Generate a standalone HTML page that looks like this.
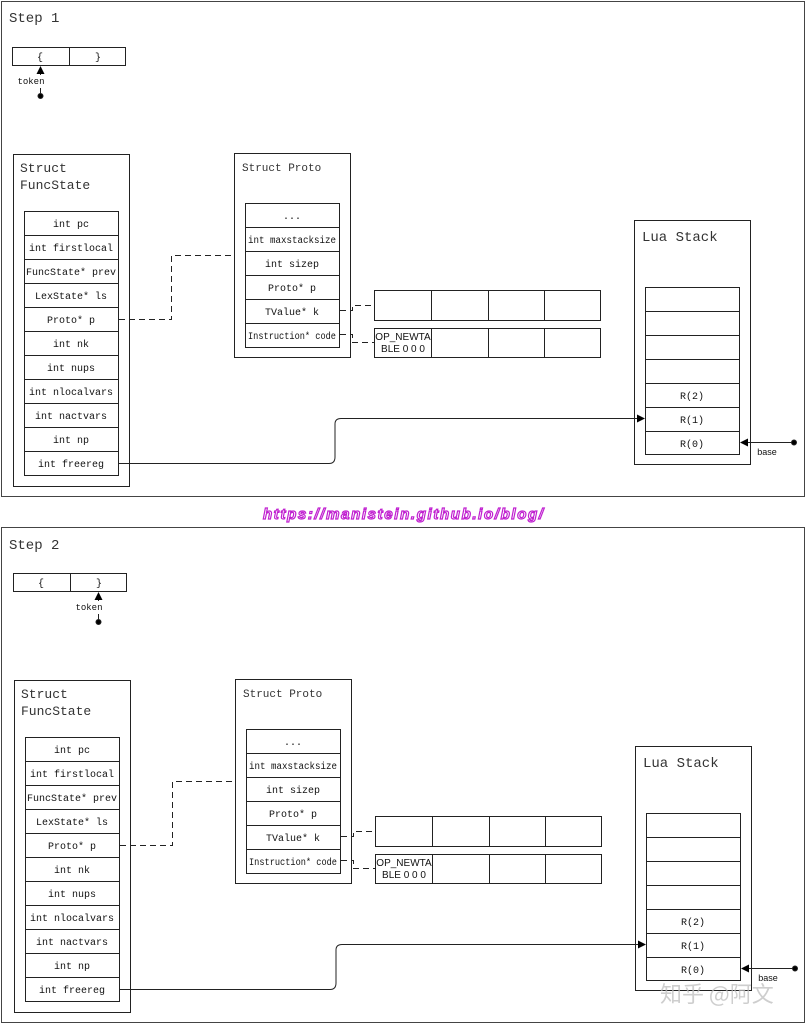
<!DOCTYPE html>
<html><head><meta charset="utf-8"><style>
html,body{margin:0;padding:0;background:#fff;}
svg{display:block;}
text{font-family:"Liberation Mono","Noto Sans CJK SC",monospace;fill:#111;}
.c{font-size:10px;text-anchor:middle;}
.t{font-size:13px;fill:#333;}
</style></head><body>
<svg width="807" height="1025" viewBox="0 0 807 1025" xmlns="http://www.w3.org/2000/svg">
<defs>
<marker id="ar" markerWidth="8" markerHeight="8" refX="7" refY="4" orient="auto" markerUnits="userSpaceOnUse"><path d="M0,0 L8,4 L0,8 z" fill="#000"/></marker>
</defs>
<g id="s1" fill="none" stroke="#222" stroke-width="1">
<rect x="1.5" y="1.5" width="803" height="495" stroke="#444"/>
<text x="9" y="22" class="t" stroke="none" style="font-size:14px">Step 1</text>
<rect x="12.5" y="47.5" width="113" height="18"/><line x1="69.5" y1="47" x2="69.5" y2="66"/>
<text x="40" y="60" class="c" stroke="none">{</text><text x="98" y="60" class="c" stroke="none">}</text>
<line x1="40.5" y1="75" x2="40.5" y2="67" marker-end="url(#ar)"/>
<text x="31" y="84" class="c" stroke="none" style="font-size:9px">token</text>
<line x1="40.5" y1="88" x2="40.5" y2="96"/><circle cx="40.5" cy="96" r="2.5" fill="#000"/>
<rect x="13.5" y="154.5" width="116" height="332"/>
<text x="20" y="172" class="t" stroke="none">Struct</text><text x="20" y="189" class="t" stroke="none">FuncState</text>
<rect x="24.5" y="211.5" width="94" height="264"/>
<path d="M24 235.5H119M24 259.5H119M24 283.5H119M24 307.5H119M24 331.5H119M24 355.5H119M24 379.5H119M24 403.5H119M24 427.5H119M24 451.5H119"/>
<g stroke="none">
<text x="71" y="227" class="c">int pc</text><text x="71" y="251" class="c">int firstlocal</text><text x="71" y="275" class="c">FuncState* prev</text><text x="71" y="299" class="c">LexState* ls</text><text x="71" y="323" class="c">Proto* p</text><text x="71" y="347" class="c">int nk</text><text x="71" y="371" class="c">int nups</text><text x="71" y="395" class="c">int nlocalvars</text><text x="71" y="419" class="c">int nactvars</text><text x="71" y="443" class="c">int np</text><text x="71" y="467" class="c">int freereg</text>
</g>
<rect x="234.5" y="153.5" width="116" height="204"/>
<text x="242" y="171" class="t" stroke="none" style="font-size:11px">Struct Proto</text>
<rect x="245.5" y="203.5" width="94" height="144"/>
<path d="M245 227.5H340M245 251.5H340M245 275.5H340M245 299.5H340M245 323.5H340"/>
<g stroke="none">
<text x="292" y="219" class="c">...</text><text x="292" y="243" class="c" textLength="88" lengthAdjust="spacingAndGlyphs">int maxstacksize</text><text x="292" y="267" class="c">int sizep</text><text x="292" y="291" class="c">Proto* p</text><text x="292" y="315" class="c">TValue* k</text><text x="292" y="339" class="c" textLength="88" lengthAdjust="spacingAndGlyphs">Instruction* code</text>
</g>
<path d="M119 319.5H171.5V255.5H234" stroke-dasharray="6,4"/>
<path d="M340 310.5H352.5V305.5H374" stroke-dasharray="6,4"/>
<path d="M340 334.5H352.5V342.5H374" stroke-dasharray="6,4"/>
<rect x="374.5" y="290.5" width="226" height="30"/><path d="M431.5 290V321M488.5 290V321M544.5 290V321"/>
<rect x="374.5" y="328.5" width="226" height="29"/><path d="M431.5 328V358M488.5 328V358M544.5 328V358"/>
<text x="403" y="340" class="c" stroke="none" style="font-family:'Liberation Sans',sans-serif;font-size:10px">OP_NEWTA</text>
<text x="403" y="352" class="c" stroke="none" style="font-family:'Liberation Sans',sans-serif;font-size:10px">BLE 0 0 0</text>
<rect x="634.5" y="220.5" width="116" height="244"/>
<text x="642" y="241" class="t" stroke="none" style="font-size:14px">Lua Stack</text>
<rect x="645.5" y="287.5" width="94" height="167"/>
<path d="M645 311.5H740M645 335.5H740M645 359.5H740M645 383.5H740M645 407.5H740M645 431.5H740"/>
<g stroke="none"><text x="692" y="399" class="c">R(2)</text><text x="692" y="423" class="c">R(1)</text><text x="692" y="447" class="c">R(0)</text></g>
<path d="M119 463.5H329Q335 463.5 335 457V424Q335 418.5 341 418.5H644" marker-end="url(#ar)"/>
<line x1="794" y1="442.5" x2="741" y2="442.5" marker-end="url(#ar)"/><circle cx="794" cy="442.5" r="2.5" fill="#000"/>
<text x="767" y="455" class="c" stroke="none" style="font-family:'Liberation Sans',sans-serif;font-size:9px">base</text>
</g>
<text x="263" y="519" style="font-family:'Liberation Sans',sans-serif;font-size:15px;font-weight:bold;font-style:italic;fill:#fff;stroke:#c020d0;stroke-width:1.2" textLength="280">https://manistein.github.io/blog/</text>
<g transform="translate(1,526)" fill="none" stroke="#222" stroke-width="1">
<rect x="0.5" y="1.5" width="803" height="495" stroke="#444"/>
<text x="8" y="23" class="t" stroke="none" style="font-size:14px">Step 2</text>
<rect x="12.5" y="47.5" width="113" height="18"/><line x1="69.5" y1="47" x2="69.5" y2="66"/>
<text x="40" y="60" class="c" stroke="none">{</text><text x="98" y="60" class="c" stroke="none">}</text>
<line x1="97.5" y1="75" x2="97.5" y2="67" marker-end="url(#ar)"/>
<text x="88" y="84" class="c" stroke="none" style="font-size:9px">token</text>
<line x1="97.5" y1="88" x2="97.5" y2="96"/><circle cx="97.5" cy="96" r="2.5" fill="#000"/>
<rect x="13.5" y="154.5" width="116" height="332"/>
<text x="20" y="172" class="t" stroke="none">Struct</text><text x="20" y="189" class="t" stroke="none">FuncState</text>
<rect x="24.5" y="211.5" width="94" height="264"/>
<path d="M24 235.5H119M24 259.5H119M24 283.5H119M24 307.5H119M24 331.5H119M24 355.5H119M24 379.5H119M24 403.5H119M24 427.5H119M24 451.5H119"/>
<g stroke="none">
<text x="71" y="227" class="c">int pc</text><text x="71" y="251" class="c">int firstlocal</text><text x="71" y="275" class="c">FuncState* prev</text><text x="71" y="299" class="c">LexState* ls</text><text x="71" y="323" class="c">Proto* p</text><text x="71" y="347" class="c">int nk</text><text x="71" y="371" class="c">int nups</text><text x="71" y="395" class="c">int nlocalvars</text><text x="71" y="419" class="c">int nactvars</text><text x="71" y="443" class="c">int np</text><text x="71" y="467" class="c">int freereg</text>
</g>
<rect x="234.5" y="153.5" width="116" height="204"/>
<text x="242" y="171" class="t" stroke="none" style="font-size:11px">Struct Proto</text>
<rect x="245.5" y="203.5" width="94" height="144"/>
<path d="M245 227.5H340M245 251.5H340M245 275.5H340M245 299.5H340M245 323.5H340"/>
<g stroke="none">
<text x="292" y="219" class="c">...</text><text x="292" y="243" class="c" textLength="88" lengthAdjust="spacingAndGlyphs">int maxstacksize</text><text x="292" y="267" class="c">int sizep</text><text x="292" y="291" class="c">Proto* p</text><text x="292" y="315" class="c">TValue* k</text><text x="292" y="339" class="c" textLength="88" lengthAdjust="spacingAndGlyphs">Instruction* code</text>
</g>
<path d="M119 319.5H171.5V255.5H234" stroke-dasharray="6,4"/>
<path d="M340 310.5H352.5V305.5H374" stroke-dasharray="6,4"/>
<path d="M340 334.5H352.5V342.5H374" stroke-dasharray="6,4"/>
<rect x="374.5" y="290.5" width="226" height="30"/><path d="M431.5 290V321M488.5 290V321M544.5 290V321"/>
<rect x="374.5" y="328.5" width="226" height="29"/><path d="M431.5 328V358M488.5 328V358M544.5 328V358"/>
<text x="403" y="340" class="c" stroke="none" style="font-family:'Liberation Sans',sans-serif;font-size:10px">OP_NEWTA</text>
<text x="403" y="352" class="c" stroke="none" style="font-family:'Liberation Sans',sans-serif;font-size:10px">BLE 0 0 0</text>
<rect x="634.5" y="220.5" width="116" height="244"/>
<text x="642" y="241" class="t" stroke="none" style="font-size:14px">Lua Stack</text>
<rect x="645.5" y="287.5" width="94" height="167"/>
<path d="M645 311.5H740M645 335.5H740M645 359.5H740M645 383.5H740M645 407.5H740M645 431.5H740"/>
<g stroke="none"><text x="692" y="399" class="c">R(2)</text><text x="692" y="423" class="c">R(1)</text><text x="692" y="447" class="c">R(0)</text></g>
<path d="M119 463.5H329Q335 463.5 335 457V424Q335 418.5 341 418.5H644" marker-end="url(#ar)"/>
<line x1="794" y1="442.5" x2="741" y2="442.5" marker-end="url(#ar)"/><circle cx="794" cy="442.5" r="2.5" fill="#000"/>
<text x="767" y="455" class="c" stroke="none" style="font-family:'Liberation Sans',sans-serif;font-size:9px">base</text>
</g>
<text x="660" y="1002" style="font-family:'Noto Sans CJK SC',sans-serif;font-size:22px;fill:rgba(190,190,190,0.75)">知乎 @阿文</text>
</svg>
</body></html>
